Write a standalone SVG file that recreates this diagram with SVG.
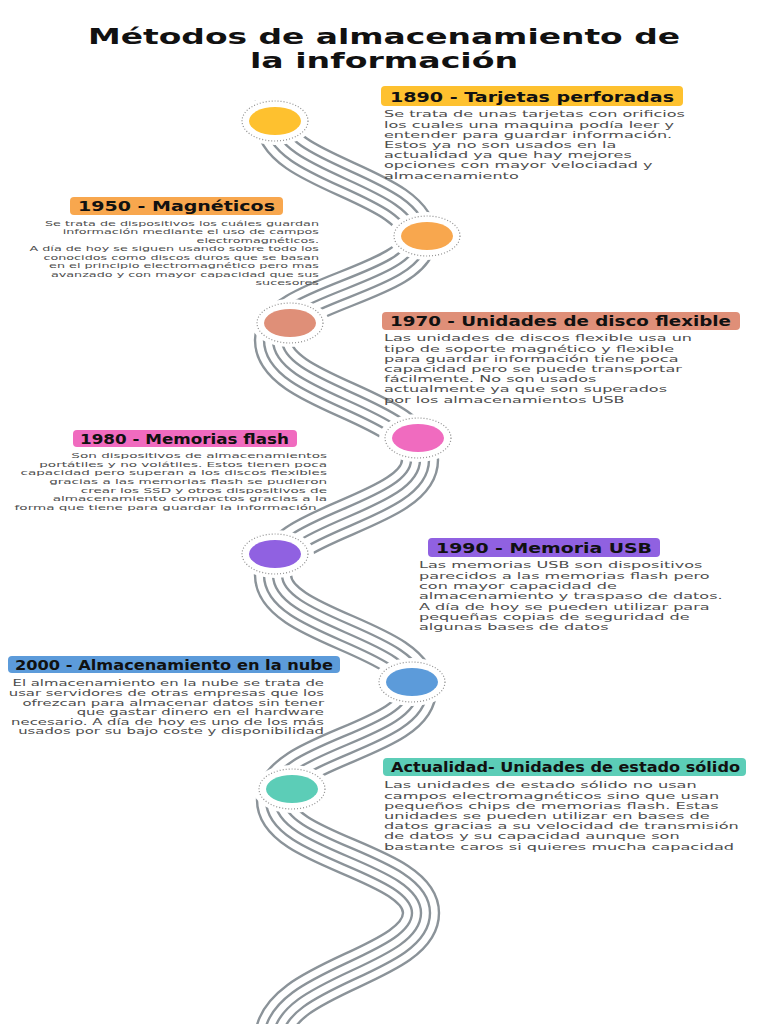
<svg xmlns="http://www.w3.org/2000/svg" xmlns:xlink="http://www.w3.org/1999/xlink" width="768" height="1024" viewBox="0 0 768 1024">
<style>
.title{font-family:"DejaVu Sans","Liberation Sans",sans-serif;font-weight:bold;font-size:21px;fill:#111}
.lab{font-family:"DejaVu Sans","Liberation Sans",sans-serif;font-weight:bold;font-size:13.5px;fill:#111}
.body{font-family:"DejaVu Sans","Liberation Sans",sans-serif;fill:#4d4d4d}
.ring{fill:none;stroke:#8f8f8f;stroke-width:1.2;stroke-dasharray:1 2}
.mask{fill:#fff}
.g1{fill:none;stroke:#8b9399;stroke-linecap:butt}
.w1{fill:none;stroke:#fff;stroke-linecap:butt}
</style>
<defs>
<path id="road" d="M 274,100 L 274,120 C 274,173 418,185 418,238 C 418,283 273,295 273,340 C 273,394 420,406 420,460 C 420,512 273,523 273,575 C 273,627 418,638 418,690 C 418,740 275,750 275,800 C 275,851 421,862 421,913 C 421,966 273,977 273,1040"/>
</defs>
<rect width="768" height="1024" fill="#fff"/>
<g id="connectors">
<use xlink:href="#road" class="g1" stroke-width="38.4"/>
<use xlink:href="#road" class="w1" stroke-width="33.6"/>
<use xlink:href="#road" class="g1" stroke-width="20.4"/>
<use xlink:href="#road" class="w1" stroke-width="15.6"/>
<use xlink:href="#road" class="g1" stroke-width="2.4"/>
</g>
<g id="title">
<text class="title" x="384" y="44" text-anchor="middle" textLength="592" lengthAdjust="spacingAndGlyphs">Métodos de almacenamiento de</text>
<text class="title" x="384" y="68" text-anchor="middle" textLength="268" lengthAdjust="spacingAndGlyphs">la información</text>
</g>
<g id="n1890">
<ellipse class="mask" cx="275" cy="121" rx="39" ry="24"/>
<ellipse class="ring" cx="275" cy="121" rx="33" ry="20"/>
<ellipse cx="275" cy="121" rx="26" ry="14" fill="#fec12f"/>
<rect x="381" y="86" width="302" height="20" rx="4" fill="#fec12f"/>
<text class="lab" x="390" y="101.5" textLength="284" lengthAdjust="spacingAndGlyphs">1890 - Tarjetas perforadas</text>
<g transform="translate(384 0) scale(1.69 1)" class="body" font-size="9.5">
<text x="0" y="117.5">Se trata de unas tarjetas con orificios</text>
<text x="0" y="127.7">los cuales una maquina podía leer y</text>
<text x="0" y="137.9">entender para guardar información.</text>
<text x="0" y="148.1">Estos ya no son usados en la</text>
<text x="0" y="158.3">actualidad ya que hay mejores</text>
<text x="0" y="168.5">opciones con mayor velociadad y</text>
<text x="0" y="178.7">almacenamiento</text>
</g>
</g>
<g id="n1950">
<ellipse class="mask" cx="427" cy="236" rx="39" ry="24"/>
<ellipse class="ring" cx="427" cy="236" rx="33" ry="20"/>
<ellipse cx="427" cy="236" rx="26" ry="14" fill="#f8a74e"/>
<rect x="70" y="197" width="213" height="18" rx="4" fill="#f8a74e"/>
<text class="lab" x="78" y="211" textLength="197" lengthAdjust="spacingAndGlyphs">1950 - Magnéticos</text>
<g transform="translate(319 0) scale(1.68 1)" class="body" font-size="7.6" text-anchor="end">
<text x="0" y="226">Se trata de dispositivos los cuáles guardan</text>
<text x="0" y="234.5">información mediante el uso de campos</text>
<text x="0" y="243">electromagnéticos.</text>
<text x="0" y="251.5">A día de hoy se siguen usando sobre todo los</text>
<text x="0" y="260">conocidos como discos duros que se basan</text>
<text x="0" y="268.5">en el principio electromagnético pero mas</text>
<text x="0" y="277">avanzado y con mayor capacidad que sus</text>
<text x="0" y="285.5">sucesores</text>
</g>
</g>
<g id="n1970">
<ellipse class="mask" cx="290" cy="323" rx="39" ry="24"/>
<ellipse class="ring" cx="290" cy="323" rx="33" ry="20"/>
<ellipse cx="290" cy="323" rx="26" ry="14" fill="#df8f78"/>
<rect x="382" y="312" width="358" height="18" rx="4" fill="#df8f78"/>
<text class="lab" x="390" y="326" textLength="341" lengthAdjust="spacingAndGlyphs">1970 - Unidades de disco flexible</text>
<g transform="translate(384 0) scale(1.69 1)" class="body" font-size="9.5">
<text x="0" y="341.5">Las unidades de discos flexible usa un</text>
<text x="0" y="351.7">tipo de soporte magnético y flexible</text>
<text x="0" y="361.9">para guardar información tiene poca</text>
<text x="0" y="372.1">capacidad pero se puede transportar</text>
<text x="0" y="382.3">fácilmente. No son usados</text>
<text x="0" y="392.5">actualmente ya que son superados</text>
<text x="0" y="402.7">por los almacenamientos USB</text>
</g>
</g>
<g id="n1980">
<ellipse class="mask" cx="418" cy="438" rx="39" ry="24"/>
<ellipse class="ring" cx="418" cy="438" rx="33" ry="20"/>
<ellipse cx="418" cy="438" rx="26" ry="14" fill="#f06bbf"/>
<rect x="73" y="430" width="224" height="17" rx="4" fill="#f06bbf"/>
<text class="lab" x="80" y="443.5" textLength="209" lengthAdjust="spacingAndGlyphs">1980 - Memorias flash</text>
<g transform="translate(327 0) scale(1.74 1)" class="body" font-size="7.8" text-anchor="end">
<text x="0" y="458">Son dispositivos de almacenamientos</text>
<text x="0" y="466.7">portátiles y no volátiles. Estos tienen poca</text>
<text x="0" y="475.4">capacidad pero superan a los discos flexibles</text>
<text x="0" y="484.1">gracias a las memorias flash se pudieron</text>
<text x="0" y="492.8">crear los SSD y otros dispositivos de</text>
<text x="0" y="501.5">almacenamiento compactos gracias a la</text>
<text x="-6" y="510.2">forma que tiene para guardar la información</text>
</g>
</g>
<g id="n1990">
<ellipse class="mask" cx="275" cy="554" rx="39" ry="24"/>
<ellipse class="ring" cx="275" cy="554" rx="33" ry="20"/>
<ellipse cx="275" cy="554" rx="26" ry="14" fill="#9061e1"/>
<rect x="428" y="538" width="232" height="19" rx="4" fill="#9061e1"/>
<text class="lab" x="436" y="553" textLength="216" lengthAdjust="spacingAndGlyphs">1990 - Memoria USB</text>
<g transform="translate(419 0) scale(1.69 1)" class="body" font-size="9.5">
<text x="0" y="568.5">Las memorias USB son dispositivos</text>
<text x="0" y="578.8">parecidos a las memorias flash pero</text>
<text x="0" y="589.1">con mayor capacidad de</text>
<text x="0" y="599.4">almacenamiento y traspaso de datos.</text>
<text x="0" y="609.7">A día de hoy se pueden utilizar para</text>
<text x="0" y="620">pequeñas copias de seguridad de</text>
<text x="0" y="630.3">algunas bases de datos</text>
</g>
</g>
<g id="n2000">
<ellipse class="mask" cx="412" cy="682" rx="39" ry="24"/>
<ellipse class="ring" cx="412" cy="682" rx="33" ry="20"/>
<ellipse cx="412" cy="682" rx="26" ry="14" fill="#5c9bda"/>
<rect x="8" y="656" width="332" height="17" rx="4" fill="#5c9bda"/>
<text class="lab" x="15" y="669.5" textLength="318" lengthAdjust="spacingAndGlyphs">2000 - Almacenamiento en la nube</text>
<g transform="translate(324 0) scale(1.65 1)" class="body" font-size="9" text-anchor="end">
<text x="0" y="686.5">El almacenamiento en la nube se trata de</text>
<text x="0" y="696.1">usar servidores de otras empresas que los</text>
<text x="0" y="705.7">ofrezcan para almacenar datos sin tener</text>
<text x="0" y="715.3">que gastar dinero en el hardware</text>
<text x="0" y="724.9">necesario. A día de hoy es uno de los más</text>
<text x="0" y="734.5">usados por su bajo coste y disponibilidad</text>
</g>
</g>
<g id="nActualidad">
<ellipse class="mask" cx="292" cy="789" rx="39" ry="24"/>
<ellipse class="ring" cx="292" cy="789" rx="33" ry="20"/>
<ellipse cx="292" cy="789" rx="26" ry="14" fill="#5ccdb7"/>
<rect x="383" y="758" width="363" height="18" rx="4" fill="#5ccdb7"/>
<text class="lab" x="391" y="772" textLength="349" lengthAdjust="spacingAndGlyphs">Actualidad- Unidades de estado sólido</text>
<g transform="translate(384 0) scale(1.70 1)" class="body" font-size="9.5">
<text x="0" y="788.5">Las unidades de estado sólido no usan</text>
<text x="0" y="798.7">campos electromagnéticos sino que usan</text>
<text x="0" y="808.9">pequeños chips de memorias flash. Estas</text>
<text x="0" y="819.1">unidades se pueden utilizar en bases de</text>
<text x="0" y="829.3">datos gracias a su velocidad de transmisión</text>
<text x="0" y="839.5">de datos y su capacidad aunque son</text>
<text x="0" y="849.7">bastante caros si quieres mucha capacidad</text>
</g>
</g>
</svg>
